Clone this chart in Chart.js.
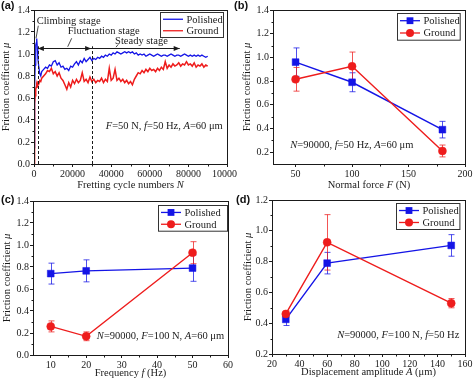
<!DOCTYPE html>
<html><head><meta charset="utf-8">
<script src="https://cdn.jsdelivr.net/npm/chart.js@4"></script>
<style>
html,body{margin:0;padding:0;background:#fff;}
#wrap{position:relative;width:474px;height:382px;overflow:hidden;background:#fff;}
canvas{position:absolute;}
.pl{position:absolute;font:bold 11px "Liberation Sans",Arial,sans-serif;line-height:11px;color:#111;z-index:2;}
</style></head><body>
<div id="wrap">
<canvas id="ca" width="237" height="190" style="left:0;top:0"></canvas>
<canvas id="cb" width="237" height="190" style="left:237px;top:0"></canvas>
<canvas id="cc" width="237" height="192" style="left:0;top:190px"></canvas>
<canvas id="cd" width="237" height="192" style="left:237px;top:190px"></canvas>
<div class="pl" style="left:1px;top:0px">(a)</div>
<div class="pl" style="left:234px;top:0px">(b)</div>
<div class="pl" style="left:1px;top:194px">(c)</div>
<div class="pl" style="left:236px;top:194px">(d)</div>
</div>
<script>
// ---------------- Panel (a): friction coefficient vs fretting cycles ----------------
const cycleN = [0,200,400,600,800,1000,1200,1400,1700,2000,2500,3000,3500,
  4000,5000,6000,7000,8000,9000,10000,11000,12000,13000,14000,15000,16000,17000,18000,19000,
  20000,21000,22000,23000,24000,25000,26000,27000,28000,29000,30000,31000,32000,33000,34000,
  35000,36000,37000,38000,39000,40000,41000,42000,43000,44000,45000,46000,47000,48000,49000,
  50000,51000,52000,53000,54000,55000,56000,57000,58000,59000,60000,61000,62000,63000,64000,
  65000,66000,67000,68000,69000,70000,71000,72000,73000,74000,75000,76000,77000,78000,79000,
  80000,81000,82000,83000,84000,85000,86000,87000,88000,89000,90000];
const muPolishedA = [0.15,0.45,0.7,0.9,1.02,1.08,1.1,1.14,1.06,0.96,0.88,0.82,0.8,
  0.84,0.86,0.88,0.87,0.9,0.89,0.93,0.94,0.9,0.92,0.88,0.89,0.86,0.87,0.85,0.89,
  0.88,0.91,0.93,0.9,0.94,0.92,0.96,0.93,0.95,0.97,0.94,0.96,0.95,0.97,0.96,
  0.98,0.97,0.99,0.98,1.0,0.99,1.01,1.0,1.02,1.01,1.0,1.01,1.02,1.01,1.02,
  1.01,1.02,1.0,1.01,0.99,1.0,0.99,1.0,0.98,0.99,1.0,0.99,0.98,0.99,1.0,
  0.99,0.98,0.99,0.99,0.98,0.99,1.0,0.99,0.98,0.99,0.99,0.98,0.99,1.0,0.99,
  0.98,0.99,0.98,0.99,0.98,0.99,0.98,0.99,0.98,0.97,0.98];
const muGroundA = [0.0,0.35,0.55,0.62,0.66,0.68,0.7,0.72,0.7,0.74,0.73,0.76,0.75,
  0.78,0.8,0.82,0.85,0.84,0.87,0.82,0.84,0.8,0.83,0.78,0.76,0.72,0.68,0.74,0.7,
  0.76,0.73,0.77,0.74,0.76,0.83,0.75,0.77,0.74,0.79,0.75,0.77,0.74,0.76,0.75,
  0.78,0.74,0.77,0.75,0.87,0.76,0.78,0.86,0.76,0.78,0.75,0.77,0.74,0.76,0.73,
  0.75,0.72,0.77,0.8,0.83,0.82,0.85,0.83,0.86,0.84,0.87,0.85,0.86,0.84,0.87,
  0.85,0.88,0.86,0.93,0.87,0.9,0.88,0.91,0.89,0.9,0.92,0.89,0.91,0.9,0.93,
  0.9,0.91,0.89,0.92,0.88,0.9,0.89,0.91,0.88,0.9,0.89];
const xTicksA = [0,20000,40000,60000,80000,100000];
const yTicksA = [0.0,0.2,0.4,0.6,0.8,1.0,1.2,1.4];

// ---------------- Panel (b): normal force ----------------
const forceF = [50,100,180];
const muPolishedB = [0.96,0.79,0.39];
const errPolishedB = [0.12,0.08,0.07];
const muGroundB = [0.815,0.925,0.21];
const errGroundB = [0.10,0.12,0.05];
const xTicksB = [50,100,150,200];
const yTicksB = [0.2,0.4,0.6,0.8,1.0,1.2,1.4];

// ---------------- Panel (c): frequency ----------------
const freqF = [10,20,50];
const muPolishedC = [0.74,0.765,0.79];
const errPolishedC = [0.095,0.10,0.12];
const muGroundC = [0.26,0.17,0.93];
const errGroundC = [0.05,0.04,0.10];
const xTicksC = [10,20,30,40,50,60];
const yTicksC = [0.0,0.2,0.4,0.6,0.8,1.0,1.2,1.4];

// ---------------- Panel (d): displacement amplitude ----------------
const ampA = [30,60,150];
const muPolishedD = [0.425,0.79,0.905];
const errPolishedD = [0.04,0.07,0.07];
const muGroundD = [0.46,0.925,0.53];
const errGroundD = [0.02,0.18,0.03];
const xTicksD = [20,40,60,80,100,120,140,160];
const yTicksD = [0.2,0.4,0.6,0.8,1.0,1.2];

// ---------------- styling helpers ----------------
const FONT = '"Liberation Serif","Times New Roman",serif';
const INK = '#1a1a1a';
const BLUE = '#1414e6';
const RED = '#ee1c1c';

function parts(str){ return str.split('*').map((t,i)=>({t, it: i%2===1})).filter(p=>p.t.length); }
function drawRich(ctx, str, x, y, size, align, rot){
  const ps = parts(str);
  ctx.save(); ctx.translate(x,y); if(rot) ctx.rotate(rot);
  let w = 0;
  for(const p of ps){ ctx.font=(p.it?'italic ':'')+size+'px '+FONT; w+=ctx.measureText(p.t).width; }
  let cx = align==='center' ? -w/2 : (align==='right' ? -w : 0);
  ctx.textBaseline='middle'; ctx.textAlign='left'; ctx.fillStyle=INK;
  for(const p of ps){ ctx.font=(p.it?'italic ':'')+size+'px '+FONT; ctx.fillText(p.t,cx,0); cx+=ctx.measureText(p.t).width; }
  ctx.restore();
}
function axis(min,max,ticks,fmt,fit){
  return {
    type:'linear', min:min, max:max,
    afterBuildTicks: s => { s.ticks = ticks.map(v=>({value:v})); },
    afterFit: s => { if(s.isHorizontal()) s.height=fit; else s.width=fit;
      s.paddingLeft=0; s.paddingRight=0; s.paddingTop=0; s.paddingBottom=0; },
    grid:{display:true, drawOnChartArea:false, drawTicks:true, tickLength:3, color:INK, lineWidth:1},
    border:{display:false},
    ticks:{font:{family:FONT,size:10}, color:INK, padding:1, maxRotation:0, minRotation:0, autoSkip:false, callback: fmt}
  };
}
const fmtInt = v => String(v);
const fmt1 = v => Number(v).toFixed(1);

function marker(ctx, kind, x, y, color){
  ctx.fillStyle=color;
  if(kind==='rect'){ ctx.fillRect(x-3.4,y-3.4,6.8,6.8); }
  else if(kind==='circle'){ ctx.beginPath(); ctx.arc(x,y,4,0,Math.PI*2); ctx.fill(); }
}
function arrowHead(ctx, x, y, dir){
  ctx.beginPath(); ctx.moveTo(x,y); ctx.lineTo(x-dir*6,y-2.5); ctx.lineTo(x-dir*6,y+2.5); ctx.closePath(); ctx.fill();
}

function decor(cfg){
  return {
    id:'decor',
    beforeDatasetsDraw(chart){
      if(!cfg.err) return;
      const ctx=chart.ctx, xs=chart.scales.x, ys=chart.scales.y;
      ctx.save();
      for(const s of cfg.err){
        ctx.strokeStyle=s.color; ctx.globalAlpha=0.75; ctx.lineWidth=1;
        s.x.forEach((xv,i)=>{
          const px=Math.round(xs.getPixelForValue(xv))+0.5;
          const y1=ys.getPixelForValue(s.y[i]+s.e[i]), y2=ys.getPixelForValue(s.y[i]-s.e[i]);
          ctx.beginPath(); ctx.moveTo(px,y1); ctx.lineTo(px,y2);
          ctx.moveTo(px-3,y1); ctx.lineTo(px+3,y1); ctx.moveTo(px-3,y2); ctx.lineTo(px+3,y2); ctx.stroke();
        });
      }
      ctx.restore();
    },
    afterDatasetsDraw(chart){
      const ctx=chart.ctx, ca=chart.chartArea, xs=chart.scales.x, ys=chart.scales.y;
      ctx.save();
      ctx.strokeStyle=INK; ctx.lineWidth=1;
      const L=Math.round(ca.left)+0.5, T=Math.round(ca.top)+0.5, R=Math.round(ca.right)+0.5, B=Math.round(ca.bottom)+0.5;
      ctx.strokeRect(L,T,R-L,B-T);
      ctx.beginPath();
      for(let i=0;i<cfg.xt.length-1;i++){ const px=Math.round(xs.getPixelForValue((cfg.xt[i]+cfg.xt[i+1])/2))+0.5; ctx.moveTo(px,B); ctx.lineTo(px,B+2); }
      for(let i=0;i<cfg.yt.length-1;i++){ const py=Math.round(ys.getPixelForValue((cfg.yt[i]+cfg.yt[i+1])/2))+0.5; ctx.moveTo(L,py); ctx.lineTo(L-2,py); }
      ctx.stroke();
      if(cfg.annot) cfg.annot(ctx,xs,ys);
      const c=cfg.cond; drawRich(ctx,c.text,xs.getPixelForValue(c.x),ys.getPixelForValue(c.y),10.5,c.align,0);
      drawRich(ctx,cfg.xTitle,(ca.left+ca.right)/2,ca.bottom+cfg.xTitleDy,10.5,'center',0);
      drawRich(ctx,'Friction coefficient *μ*',cfg.yTitleX,(ca.top+ca.bottom)/2,10.5,'center',-Math.PI/2);
      const lg=cfg.legend;
      const bx=Math.round(ca.right-lg.dx-lg.w)+0.5, by=Math.round(ca.top+lg.dy)+0.5;
      ctx.strokeStyle='#333'; ctx.lineWidth=1; ctx.strokeRect(bx,by,lg.w,lg.h);
      lg.rows.forEach((r,i)=>{
        const yy=by+lg.h*(i===0?0.27:0.73);
        ctx.strokeStyle=r.color; ctx.lineWidth=1.3;
        ctx.beginPath(); ctx.moveTo(bx+2.5,yy); ctx.lineTo(bx+22.5,yy); ctx.stroke();
        if(r.marker) marker(ctx,r.marker,bx+12.5,yy,r.color);
        drawRich(ctx,r.label,bx+26,yy+0.5,10.5,'left',0);
      });
      ctx.restore();
    }
  };
}

function lineSet(label, xsArr, ysArr, color, style, order){
  return {label, data: xsArr.map((x,i)=>({x, y: ysArr[i]})), borderColor:color, backgroundColor:color,
    borderWidth:1.4, pointRadius: style==='rect'?4.8:4, pointStyle:style, pointBackgroundColor:color,
    pointBorderColor:color, pointBorderWidth:0.5, tension:0, order};
}
function baseOptions(pad, xAx, yAx){
  return {responsive:false, animation:false, events:[], layout:{padding:pad},
    plugins:{legend:{display:false}, tooltip:{enabled:false}}, scales:{x:xAx, y:yAx}};
}

// ---- (a)
new Chart(document.getElementById('ca'), {
  type:'line',
  data:{datasets:[
    {label:'Polished', data: cycleN.map((n,i)=>({x:n,y:muPolishedA[i]})), borderColor:BLUE, borderWidth:1.3, pointRadius:0, tension:0, order:1},
    {label:'Ground', data: cycleN.map((n,i)=>({x:n,y:muGroundA[i]})), borderColor:RED, borderWidth:1.5, pointRadius:0, tension:0, order:0}
  ]},
  options: baseOptions({top:10,right:10,left:0,bottom:0}, axis(0,100000,xTicksA,fmtInt,26), axis(0,1.4,yTicksA,fmt1,34)),
  plugins:[decor({
    xt:xTicksA, yt:yTicksA, xTitle:'Fretting cycle numbers *N*', xTitleDy:21, yTitleX:6.5,
    cond:{text:'*F*=50 N, *f*=50 Hz, *A*=60 μm', x:97800, y:0.339, align:'right'},
    legend:{dx:4, dy:2, w:63, h:25, rows:[{label:'Polished',color:BLUE},{label:'Ground',color:RED}]},
    annot:(ctx,xs,ys)=>{
      const X=v=>xs.getPixelForValue(v), Y=v=>ys.getPixelForValue(v);
      ctx.strokeStyle=INK; ctx.fillStyle=INK; ctx.lineWidth=1;
      ctx.setLineDash([3,2]);
      [2000,30000].forEach(n=>{ const px=Math.round(X(n))+0.5; ctx.beginPath(); ctx.moveTo(px,Y(0)); ctx.lineTo(px,Y(1.07)); ctx.stroke(); });
      ctx.setLineDash([]);
      const ay=Math.round(Y(1.057))+0.5;
      ctx.beginPath(); ctx.moveTo(X(2000),ay); ctx.lineTo(X(75500),ay); ctx.stroke();
      arrowHead(ctx,X(2000),ay,-1); arrowHead(ctx,X(29600),ay,1); arrowHead(ctx,X(75500),ay,1);
      ctx.lineWidth=0.8;
      ctx.beginPath();
      ctx.moveTo(X(2230),Y(1.257)); ctx.lineTo(X(1040),Y(1.143));
      ctx.moveTo(X(19530),Y(1.143)); ctx.lineTo(X(17460),Y(1.066));
      ctx.moveTo(X(43680),Y(1.088)); ctx.lineTo(X(42490),Y(1.062));
      ctx.stroke();
      drawRich(ctx,'Climbing stage',X(1400),Y(1.30),10.5,'left',0);
      drawRich(ctx,'Fluctuation stage',X(17460),Y(1.211),10.5,'left',0);
      drawRich(ctx,'Steady stage',X(42000),Y(1.12),10.5,'left',0);
    }
  })]
});

// ---- (b)
new Chart(document.getElementById('cb'), {
  type:'line',
  data:{datasets:[lineSet('Polished',forceF,muPolishedB,BLUE,'rect',1), lineSet('Ground',forceF,muGroundB,RED,'circle',0)]},
  options: baseOptions({top:10,right:9,left:0,bottom:0}, axis(30,200,xTicksB,fmtInt,26), axis(0.1,1.4,yTicksB,fmt1,36)),
  plugins:[decor({
    xt:xTicksB, yt:yTicksB, xTitle:'Normal force *F* (N)', xTitleDy:21, yTitleX:10.5,
    cond:{text:'*N*=90000, *f*=50 Hz, *A*=60 μm', x:45.3, y:0.259, align:'left'},
    legend:{dx:5.3, dy:3.3, w:62.7, h:26.7, rows:[{label:'Polished',color:BLUE,marker:'rect'},{label:'Ground',color:RED,marker:'circle'}]},
    err:[{x:forceF,y:muPolishedB,e:errPolishedB,color:BLUE},{x:forceF,y:muGroundB,e:errGroundB,color:RED}]
  })]
});

// ---- (c)
new Chart(document.getElementById('cc'), {
  type:'line',
  data:{datasets:[lineSet('Polished',freqF,muPolishedC,BLUE,'rect',1), lineSet('Ground',freqF,muGroundC,RED,'circle',0)]},
  options: baseOptions({top:11,right:9,left:0,bottom:0}, axis(5,60,xTicksC,fmtInt,27), axis(0,1.4,yTicksC,fmt1,33)),
  plugins:[decor({
    xt:xTicksC, yt:yTicksC, xTitle:'Frequency *f* (Hz)', xTitleDy:18.3, yTitleX:7,
    cond:{text:'*N*=90000, *F*=100 N, *A*=60 μm', x:58.9, y:0.17, align:'right'},
    legend:{dx:1.5, dy:4.3, w:69, h:25.7, rows:[{label:'Polished',color:BLUE,marker:'rect'},{label:'Ground',color:RED,marker:'circle'}]},
    err:[{x:freqF,y:muPolishedC,e:errPolishedC,color:BLUE},{x:freqF,y:muGroundC,e:errGroundC,color:RED}]
  })]
});

// ---- (d)
new Chart(document.getElementById('cd'), {
  type:'line',
  data:{datasets:[lineSet('Polished',ampA,muPolishedD,BLUE,'rect',1), lineSet('Ground',ampA,muGroundD,RED,'circle',0)]},
  options: baseOptions({top:10,right:9,left:0,bottom:0}, axis(20,160,xTicksD,fmtInt,28), axis(0.2,1.2,yTicksD,fmt1,35)),
  plugins:[decor({
    xt:xTicksD, yt:yTicksD, xTitle:'Displacement amplitude *A* (μm)', xTitleDy:18.3, yTitleX:11,
    cond:{text:'*N*=90000, *F*=100 N, *f*=50 Hz', x:155.9, y:0.32, align:'right'},
    legend:{dx:5.6, dy:3.3, w:63.4, h:26, rows:[{label:'Polished',color:BLUE,marker:'rect'},{label:'Ground',color:RED,marker:'circle'}]},
    err:[{x:ampA,y:muPolishedD,e:errPolishedD,color:BLUE},{x:ampA,y:muGroundD,e:errGroundD,color:RED}]
  })]
});
</script>
</body></html>
